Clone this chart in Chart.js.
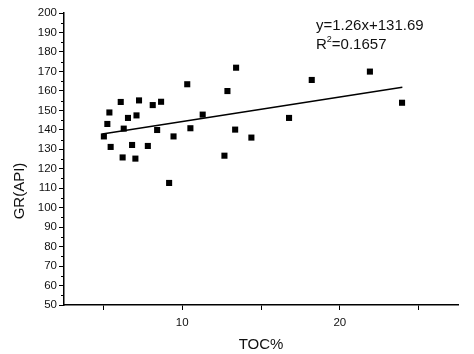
<!DOCTYPE html>
<html>
<head>
<meta charset="utf-8">
<script src="https://cdn.jsdelivr.net/npm/chart.js@4"></script>
<style>
    html, body { margin: 0; padding: 0; background: #fff; }
    #wrap { width: 474px; height: 354px; }
</style>
</head>
<body>
<div id="wrap"><canvas id="tocChart" width="474" height="354"></canvas></div>
<script>
// TOC (%) vs GR (API)
const tocValues = [5.03, 5.25, 5.38, 5.46, 6.10, 6.22, 6.29, 6.56, 6.82, 7.03,
                   7.10, 7.26, 7.82, 8.13, 8.41, 8.66, 9.45, 9.17, 10.32, 10.52,
                   13.42, 12.87, 11.30, 13.36, 14.39, 12.68, 16.78, 18.22, 21.91, 23.95];
const grValues = [136.6, 143.0, 148.9, 131.2, 154.3, 125.8, 140.6, 146.1, 132.2, 125.2,
                  147.4, 155.1, 131.7, 152.7, 139.9, 154.4, 136.6, 112.7, 163.4, 140.8,
                  171.9, 159.9, 147.8, 140.1, 136.0, 126.7, 146.1, 165.6, 169.9, 153.9];

// trend line ends
const fitX = [4.93, 23.97];
const fitY = [137.9, 161.9];

const xTicks = [5, 10, 15, 20, 25];
const xLabelled = [10, 20];
const equationText = 'y=1.26x+131.69';
const r2Text = ['R', '2', '=0.1657'];

const FONT = '"Liberation Sans", Arial, sans-serif';

const extraText = {
    id: 'extraText',
    afterDraw(chart) {
        const ctx = chart.ctx;
        const ys = chart.scales.y;
        const area = chart.chartArea;
        ctx.save();
        // minor ticks on y
        ctx.strokeStyle = '#000';
        ctx.lineWidth = 1;
        for (let v = 55; v < 200; v += 10) {
            const p = Math.round(ys.getPixelForValue(v)) + 0.5;
            ctx.beginPath();
            ctx.moveTo(area.left - 3, p);
            ctx.lineTo(area.left, p);
            ctx.stroke();
        }
        ctx.fillStyle = '#111';
        ctx.font = '15px ' + FONT;
        ctx.textBaseline = 'middle';
        ctx.textAlign = 'left';
        ctx.fillText(equationText, 316, 26);

        // R² with a small raised 2
        let x = 316;
        ctx.fillText(r2Text[0], x, 45);
        x += ctx.measureText(r2Text[0]).width;
        ctx.font = '9px ' + FONT;
        ctx.fillText(r2Text[1], x, 40);
        x += ctx.measureText(r2Text[1]).width;
        ctx.font = '15px ' + FONT;
        ctx.fillText(r2Text[2], x, 45);

        // axis titles
        ctx.textAlign = 'center';
        ctx.fillText('TOC%', (area.left + area.right) / 2, 345);
        ctx.translate(20, 191);
        ctx.rotate(-Math.PI / 2);
        ctx.fillText('GR(API)', 0, 0);
        ctx.restore();
    }
};

const ctx = document.getElementById('tocChart').getContext('2d');
new Chart(ctx, {
    type: 'scatter',
    data: {
        datasets: [
            {
                label: 'GR',
                data: tocValues.map((x, i) => ({ x: x, y: grValues[i] })),
                pointStyle: 'rect',
                pointRadius: 4.3,
                pointBorderWidth: 0,
                backgroundColor: '#000',
                borderColor: '#000'
            },
            {
                label: 'fit',
                type: 'line',
                data: fitX.map((x, i) => ({ x: x, y: fitY[i] })),
                borderColor: '#000',
                borderWidth: 1.5,
                pointRadius: 0,
                fill: false
            }
        ]
    },
    options: {
        responsive: false,
        animation: false,
        devicePixelRatio: 1,
        layout: {
            padding: { top: 13, right: 16, bottom: 0, left: 0 }
        },
        plugins: {
            legend: { display: false },
            tooltip: { enabled: false }
        },
        scales: {
            x: {
                type: 'linear',
                min: 2.5,
                max: 27.5,
                afterBuildTicks: function (scale) {
                    scale.ticks = xTicks.map(v => ({ value: v }));
                },
                afterFit: function (scale) { scale.height = 49; },
                border: { display: true, color: '#000', width: 1.5 },
                grid: {
                    drawOnChartArea: false,
                    tickLength: 5,
                    tickColor: '#000',
                    tickWidth: 1
                },
                ticks: {
                    color: '#111',
                    font: { family: FONT, size: 11.5 },
                    padding: 6,
                    maxRotation: 0,
                    callback: function (v) { return xLabelled.includes(v) ? String(v) : ''; }
                }
            },
            y: {
                min: 50,
                max: 200,
                afterFit: function (scale) { scale.width = 64; },
                border: { display: true, color: '#000', width: 1.5 },
                grid: {
                    drawOnChartArea: false,
                    tickLength: 5,
                    tickColor: '#000',
                    tickWidth: 1
                },
                ticks: {
                    stepSize: 10,
                    color: '#111',
                    font: { family: FONT, size: 11.5 },
                    padding: 2
                }
            }
        }
    },
    plugins: [extraText]
});
</script>
</body>
</html>
